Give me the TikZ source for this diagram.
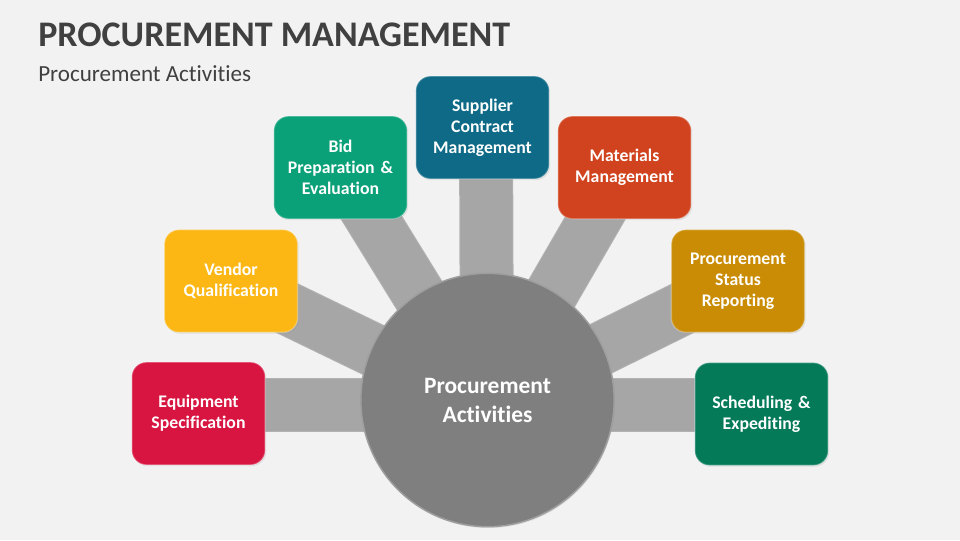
\documentclass[tikz,border=0pt]{standalone}
\usepackage{fontspec}
\setmainfont{Carlito}[Ligatures=NoCommon]
\usetikzlibrary{shadows}
\definecolor{bg}{HTML}{F2F2F2}
\definecolor{titlegray}{HTML}{404040}
\definecolor{spokegray}{HTML}{A6A6A6}
\definecolor{hubgray}{HTML}{7F7F7F}
\definecolor{cEquip}{HTML}{D81441}
\definecolor{cVendor}{HTML}{FDB714}
\definecolor{cBid}{HTML}{0AA078}
\definecolor{cSupp}{HTML}{0E6A86}
\definecolor{cMat}{HTML}{D0431E}
\definecolor{cStat}{HTML}{C98C04}
\definecolor{cSched}{HTML}{047A59}
\tikzset{
  actbox/.style={rounded corners=11pt, minimum width=99.5pt, minimum height=77pt,
    inner sep=2pt, align=center, text=white, text width=96pt,
    font=\fontsize{13.3}{15.75}\selectfont\bfseries,
    drop shadow={opacity=0.18, shadow xshift=0.8pt, shadow yshift=-1pt},
    draw=white, draw opacity=0.28, line width=1.1pt},
  spoke/.style={line width=39pt, spokegray},
  spokeedge/.style={line width=40.5pt, black!30},
  hub/.style={circle, fill=hubgray, draw=black!38, line width=1.1pt, minimum size=190pt,
    inner sep=0pt, align=center, text=white, font=\fontsize{17.6}{21.75}\selectfont\bfseries},
}
\begin{document}
\begin{tikzpicture}[x=0.75pt, y=-0.75pt]
\useasboundingbox (0,0) rectangle (960,540);
\fill[bg] (0,0) rectangle (960,540);
\node[anchor=base west, inner sep=0pt, text=titlegray, font=\fontsize{27}{32}\selectfont\bfseries] (title) at (38,46) {PROCUREMENT MANAGEMENT};
\node[anchor=base west, inner sep=0pt, text=titlegray, font=\fontsize{17.3}{20}\selectfont] (subtitle) at (38,81) {Procurement Activities};
\coordinate (hub) at (487,405);
\coordinate (p1) at (198.5,413.5);
\coordinate (p2) at (231,281);
\coordinate (p3) at (340.5,167.5);
\coordinate (p4) at (486,127.5);
\coordinate (p5) at (624.5,167.5);
\coordinate (p6) at (738,281);
\coordinate (p7) at (761.5,414);
\foreach \p in {p2,p3,p4,p5,p6} {\draw[spokeedge] (hub) -- (\p);}
\draw[spokeedge] (hub) -- (p1 |- hub);
\draw[spokeedge] (hub) -- (p7 |- hub);
\foreach \p in {p2,p3,p4,p5,p6} {\draw[spoke] (hub) -- (\p);}
\draw[spoke] (hub) -- (p1 |- hub);
\draw[spoke] (hub) -- (p7 |- hub);
\node[hub, drop shadow={opacity=0.2, shadow xshift=0.6pt, shadow yshift=-1pt}] (c) at (487.5,400) {Procurement\\Activities};
\node[actbox, fill=cEquip] (b1) at (p1) {Equipment\\Specification};
\node[actbox, fill=cVendor] (b2) at (p2) {Vendor\\Qualification};
\node[actbox, fill=cBid] (b3) at (p3) {Bid\\Preparation \&\\Evaluation};
\node[actbox, fill=cSupp] (b4) at (482.5,127.5) {Supplier\\Contract\\Management};
\node[actbox, fill=cMat] (b5) at (p5) {Materials\\Management};
\node[actbox, fill=cStat] (b6) at (p6) {Procurement\\Status\\Reporting};
\node[actbox, fill=cSched] (b7) at (p7) {Scheduling \&\\Expediting};
\end{tikzpicture}
\end{document}
